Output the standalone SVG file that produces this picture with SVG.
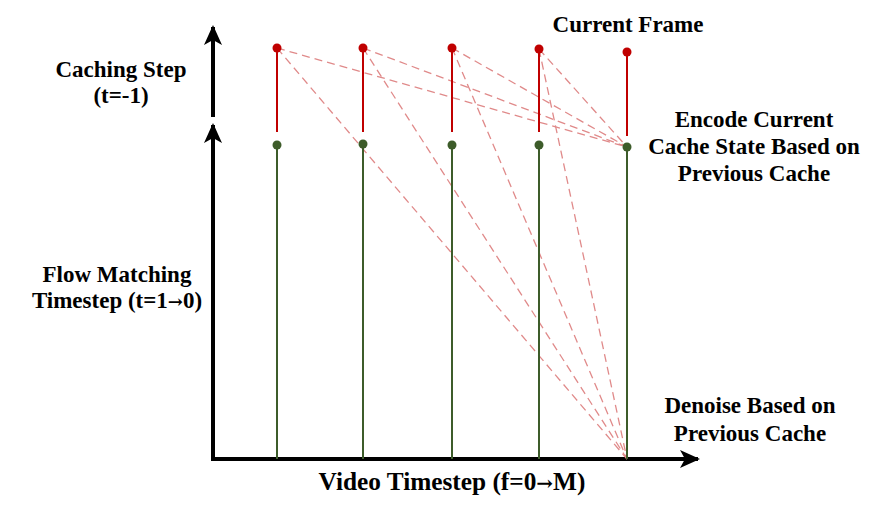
<svg xmlns="http://www.w3.org/2000/svg" width="877" height="513" viewBox="0 0 877 513">
<style>
  .lbl { font-family: "Liberation Serif", "Times New Roman", serif; font-weight: bold; font-size: 23px; fill: #000; text-anchor: middle; }
  .arr { font-family: "DejaVu Serif", serif; font-weight: bold; font-size: 18px; }
  .axis { stroke: #000; stroke-width: 4; fill: none; }
  .red { stroke: #c00000; stroke-width: 2; }
  .green { stroke: #3d5c2a; stroke-width: 2; }
  .rdot { fill: #c00000; }
  .gdot { fill: #3d5c2a; }
  .dash { stroke: #e08a8a; stroke-width: 1.3; stroke-dasharray: 8 5; fill: none; }
</style>
<defs>
  <marker id="ah" viewBox="0 0 20 20" refX="18" refY="10" markerWidth="20" markerHeight="20" markerUnits="userSpaceOnUse" orient="auto">
    <path d="M0,1 L20,10 L0,19 L5,10 Z" fill="#000"/>
  </marker>
</defs>
<rect width="877" height="513" fill="#fff"/>
<g id="axes">
  <line class="axis" x1="213" y1="117" x2="213" y2="27" marker-end="url(#ah)"/>
  <line class="axis" x1="213" y1="461" x2="213" y2="125" marker-end="url(#ah)"/>
  <line class="axis" x1="211" y1="459" x2="698" y2="459" marker-end="url(#ah)"/>
</g>
<g id="connectors">
  <line class="dash" x1="277" y1="48" x2="627" y2="147"/>
  <line class="dash" x1="277" y1="48" x2="627" y2="459"/>
  <line class="dash" x1="363" y1="48" x2="627" y2="147"/>
  <line class="dash" x1="363" y1="48" x2="627" y2="459"/>
  <line class="dash" x1="452" y1="48" x2="627" y2="147"/>
  <line class="dash" x1="452" y1="48" x2="627" y2="459"/>
  <line class="dash" x1="539" y1="49" x2="627" y2="147"/>
  <line class="dash" x1="539" y1="49" x2="627" y2="459"/>
</g>
<g id="frame1">
  <line class="red" x1="277" y1="48" x2="277" y2="132"/>
  <circle class="rdot" cx="277" cy="48" r="4.5"/>
  <line class="green" x1="277" y1="145" x2="277" y2="459"/>
  <circle class="gdot" cx="277" cy="145" r="4.5"/>
</g>
<g id="frame2">
  <line class="red" x1="363" y1="48" x2="363" y2="132"/>
  <circle class="rdot" cx="363" cy="48" r="4.5"/>
  <line class="green" x1="363" y1="144" x2="363" y2="459"/>
  <circle class="gdot" cx="363" cy="144" r="4.5"/>
</g>
<g id="frame3">
  <line class="red" x1="452" y1="48" x2="452" y2="132"/>
  <circle class="rdot" cx="452" cy="48" r="4.5"/>
  <line class="green" x1="452" y1="145" x2="452" y2="459"/>
  <circle class="gdot" cx="452" cy="145" r="4.5"/>
</g>
<g id="frame4">
  <line class="red" x1="539" y1="49" x2="539" y2="132"/>
  <circle class="rdot" cx="539" cy="49" r="4.5"/>
  <line class="green" x1="539" y1="145" x2="539" y2="459"/>
  <circle class="gdot" cx="539" cy="145" r="4.5"/>
</g>
<g id="frame5">
  <line class="red" x1="627" y1="52" x2="627" y2="136"/>
  <circle class="rdot" cx="627" cy="52" r="4.5"/>
  <line class="green" x1="627" y1="147" x2="627" y2="459"/>
  <circle class="gdot" cx="627" cy="147" r="4.5"/>
</g>
<g id="labels">
  <text class="lbl" x="628" y="32">Current Frame</text>
  <text class="lbl" x="121" y="77">Caching Step</text>
  <text class="lbl" x="121" y="103">(t=-1)</text>
  <text class="lbl" x="117" y="282">Flow Matching</text>
  <text class="lbl" x="117" y="308">Timestep (t=1<tspan class="arr">→</tspan>0)</text>
  <text class="lbl" x="754" y="127">Encode Current</text>
  <text class="lbl" x="754" y="154">Cache State Based on</text>
  <text class="lbl" x="754" y="181">Previous Cache</text>
  <text class="lbl" x="750" y="413">Denoise Based on</text>
  <text class="lbl" x="750" y="441">Previous Cache</text>
  <text class="lbl" x="452" y="490" style="font-size:25.3px">Video Timestep (f=0<tspan class="arr" style="font-size:20px">→</tspan>M)</text>
</g>
</svg>
